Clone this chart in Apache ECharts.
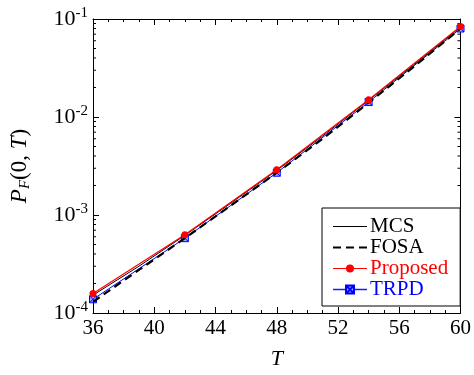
<!DOCTYPE html>
<html>
<head>
<meta charset="utf-8">
<script src="https://cdn.jsdelivr.net/npm/echarts@6/dist/echarts.min.js"></script>
<style>
  html, body { margin: 0; padding: 0; background: #fff; }
  #chart { width: 474px; height: 375px; }
</style>
</head>
<body>
<div id="chart"></div>
<script>
// T values
const mcsT = [36, 39, 42, 45, 48, 51, 54, 57, 60]
const markT = [36, 42, 48, 54, 60]

// failure probability P_F(0, T)
const mcsVals = [1.52e-4, 3.0e-4, 6.2e-4, 1.32e-3, 2.85e-3, 6.4e-3, 1.48e-2, 3.45e-2, 8.3e-2]
const fosaVals = [1.3e-4, 2.75e-4, 5.8e-4, 1.25e-3, 2.7e-3, 6.0e-3, 1.4e-2, 3.3e-2, 8.0e-2]
const proposedVals = [1.58e-4, 6.3e-4, 2.9e-3, 1.5e-2, 8.4e-2]
const trpdVals = [1.38e-4, 5.8e-4, 2.7e-3, 1.42e-2, 8.0e-2]

// y axis decades and minor ticks
const yDecades = [1e-4, 1e-3, 1e-2]
const minorMult = [2, 3, 4, 5, 6, 7, 8, 9]
const yMinor = []
yDecades.forEach((d) => minorMult.forEach((m) => yMinor.push(d * m)))

const xMin = 36
const xMax = 60
const font = 'Liberation Serif, Times New Roman, serif'

const zip = (xs, ys) => xs.map((x, i) => [x, ys[i]])

const chart = echarts.init(document.getElementById('chart'))

const baseX = {
  type: 'value',
  min: xMin,
  max: xMax,
  interval: 4,
  splitLine: { show: false },
  axisLine: { lineStyle: { color: '#000', width: 1 } },
  axisTick: { inside: true, length: 6, lineStyle: { color: '#000' } },
  minorTick: { show: true, splitNumber: 4, length: 3, lineStyle: { color: '#000' } },
  minorSplitLine: { show: false }
}

const baseY = {
  type: 'log',
  logBase: 10,
  min: 1e-4,
  max: 1e-1,
  splitLine: { show: false },
  axisLine: { lineStyle: { color: '#000', width: 1 } },
  axisTick: { inside: true, length: 6, lineStyle: { color: '#000' } }
}

const option = {
  animation: false,
  backgroundColor: '#fff',
  grid: { left: 88, right: 9, top: 19, bottom: 57 },
  xAxis: [
    {
      ...baseX,
      position: 'bottom',
      name: 'T',
      nameLocation: 'middle',
      nameGap: 35,
      nameTextStyle: { fontFamily: font, fontSize: 22, fontStyle: 'italic', color: '#000' },
      axisLabel: { color: '#000', fontFamily: font, fontSize: 21, margin: 5 }
    },
    { ...baseX, position: 'top', axisLabel: { show: false } }
  ],
  yAxis: [
    {
      ...baseY,
      position: 'left',
      name: '{i|P}{sub|F}{n|(0, }{i|T}{n|)}',
      nameLocation: 'middle',
      nameGap: 60,
      nameRotate: 90,
      nameTextStyle: {
        color: '#000',
        rich: {
          i: { fontFamily: font, fontSize: 23, fontStyle: 'italic', color: '#000' },
          n: { fontFamily: font, fontSize: 23, color: '#000' },
          sub: { fontFamily: font, fontSize: 15, fontStyle: 'italic', color: '#000', padding: [12, 0, 0, 0] }
        }
      },
      axisLabel: {
        margin: 5,
        formatter: (v) => '{b|10}{s|' + Math.round(Math.log10(v)) + '}',
        rich: {
          b: { fontFamily: font, fontSize: 22, color: '#000' },
          s: { fontFamily: font, fontSize: 15, color: '#000', padding: [0, 0, 12, 0] }
        }
      }
    },
    { ...baseY, position: 'right', axisLabel: { show: false } }
  ],
  legend: {
    orient: 'vertical',
    left: 322,
    top: 208,
    width: 135,
    padding: [8, 12, 6, 10],
    backgroundColor: '#fff',
    borderColor: '#000',
    borderWidth: 1,
    borderRadius: 0,
    itemWidth: 34,
    itemHeight: 10,
    itemGap: 0,
    textStyle: { fontFamily: font, fontSize: 21, lineHeight: 21, padding: [0, 0, 0, -2] },
    data: [
      { name: 'MCS', textStyle: { color: '#000' }, itemStyle: { opacity: 0 }, lineStyle: { color: '#000', width: 1 } },
      { name: 'FOSA', textStyle: { color: '#000' }, itemStyle: { opacity: 0 }, lineStyle: { color: '#000', width: 2, type: [8, 5] } },
      { name: 'Proposed', textStyle: { color: '#ff0000' }, lineStyle: { color: '#ff0000', width: 1 } },
      { name: 'TRPD', textStyle: { color: '#0000ff' }, lineStyle: { color: '#1a1aff', width: 1.3 } }
    ]
  },
  series: [
    {
      name: 'TRPD',
      type: 'line',
      z: 2,
      data: zip(markT, trpdVals),
      symbol: 'path://M0,0 L10,0 L10,10 L0,10 Z M0,0 L10,10 M10,0 L0,10',
      symbolSize: 7,
      showSymbol: true,
      itemStyle: { color: '#9aa5ff', borderColor: '#0000ff', borderWidth: 1 },
      lineStyle: { color: '#0000ff', width: 1 }
    },
    {
      name: 'FOSA',
      type: 'line',
      z: 3,
      data: zip(mcsT, fosaVals),
      symbol: 'none',
      itemStyle: { color: '#000' },
      lineStyle: { color: '#000', width: 2.2, type: [8, 5] }
    },
    {
      name: 'MCS',
      type: 'line',
      z: 4,
      data: zip(mcsT, mcsVals),
      symbol: 'none',
      itemStyle: { color: '#000' },
      lineStyle: { color: '#000', width: 1 }
    },
    {
      name: 'Proposed',
      type: 'line',
      z: 5,
      data: zip(markT, proposedVals),
      symbol: 'circle',
      symbolSize: 7,
      itemStyle: { color: '#ff0000' },
      lineStyle: { color: '#ff0000', width: 1.2 }
    },
    {
      // log-spaced minor ticks on left and right frame
      type: 'custom',
      silent: true,
      z: 1,
      data: yMinor.map((v) => [xMin, v]),
      renderItem: (params, api) => {
        const v = api.value(1)
        const l = api.coord([xMin, v])
        const r = api.coord([xMax, v])
        return {
          type: 'group',
          children: [
            { type: 'line', shape: { x1: l[0], y1: l[1], x2: l[0] + 3, y2: l[1] }, style: { stroke: '#000', lineWidth: 1 } },
            { type: 'line', shape: { x1: r[0] - 3, y1: r[1], x2: r[0], y2: r[1] }, style: { stroke: '#000', lineWidth: 1 } }
          ]
        }
      }
    }
  ]
}

chart.setOption(option)
</script>
</body>
</html>
